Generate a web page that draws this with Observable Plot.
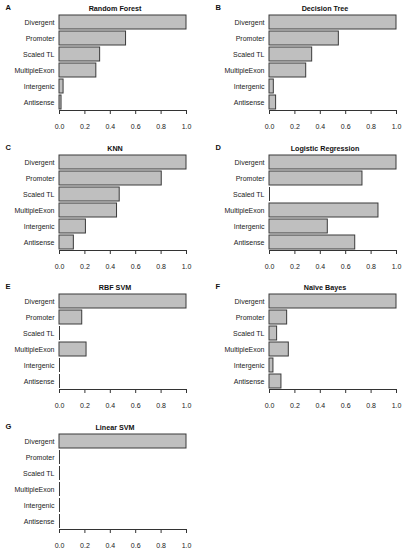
<!DOCTYPE html>
<html>
<head>
<meta charset="utf-8">
<script src="https://cdn.jsdelivr.net/npm/d3@7"></script>
<script src="https://cdn.jsdelivr.net/npm/@observablehq/plot@0.6"></script>
<style>
  html, body { margin: 0; padding: 0; background: white; overflow: hidden; }
  #chart { position: relative; width: 405px; height: 550px; }
  .panel { position: absolute; }
</style>
</head>
<body>
<div id="chart"></div>
<script>
// feature categories (top to bottom)
const categories = ["Divergent", "Promoter", "Scaled TL", "MultipleExon", "Intergenic", "Antisense"];

// panel titles and letters
const models = ["Random Forest", "Decision Tree", "KNN", "Logistic Regression", "RBF SVM", "Naïve Bayes", "Linear SVM"];
const letters = ["A", "B", "C", "D", "E", "F", "G"];

// relative importance per model, same order as categories
const randomForest = [1.0, 0.524, 0.32, 0.29, 0.032, 0.016];
const decisionTree = [1.0, 0.546, 0.336, 0.289, 0.034, 0.052];
const knn = [1.0, 0.805, 0.474, 0.453, 0.208, 0.113];
const logisticRegression = [1.0, 0.732, 0, 0.858, 0.459, 0.675];
const rbfSvm = [1.0, 0.179, 0, 0.213, 0, 0];
const naiveBayes = [1.0, 0.139, 0.06, 0.152, 0.031, 0.094];
const linearSvm = [1.0, 0, 0, 0, 0, 0];

const xTicks = [0, 0.2, 0.4, 0.6, 0.8, 1.0];

const seriesList = [randomForest, decisionTree, knn, logisticRegression, rbfSvm, naiveBayes, linearSvm];

const panelW = 195;
const panelH = 139.5;
const colX = [0, 210];

const chart = document.querySelector("#chart");

seriesList.forEach((values, i) => {
  const rows = categories.map((c, j) => ({category: c, value: values[j]}));

  const plot = Plot.plot({
    width: panelW,
    height: panelH,
    marginLeft: 59,
    marginRight: 9,
    marginTop: 14,
    marginBottom: 29.5,
    style: {fontFamily: "'Liberation Sans', Arial, Helvetica, sans-serif", fontSize: "7px", color: "#222", background: "white", overflow: "visible"},
    x: {domain: [0, 1]},
    y: {domain: categories, paddingInner: 0.14, paddingOuter: 0.07},
    marks: [
      Plot.axisY({tickSize: 0, tickPadding: 5, label: null, fill: "#222"}),
      Plot.axisX({ticks: xTicks, tickFormat: d3.format(".1f"), tickSize: 4, tickPadding: 10, label: null, stroke: "#333", fill: "#222"}),
      Plot.frame({anchor: "bottom", stroke: "#333"}),
      Plot.barX(rows, {x: "value", y: "category", fill: "#bfbfbf", stroke: "#3a3a3a", strokeWidth: 1}),
      // zero-width bars still show as a thin line, like R's barplot
      Plot.tickX(rows.filter(d => d.value === 0), {x: "value", y: "category", stroke: "#3a3a3a"}),
      Plot.text([models[i]], {frameAnchor: "top", lineAnchor: "middle", dx: -8, dy: -6, fontWeight: "bold", fontSize: 7.2, fill: "#111"}),
      Plot.text([letters[i]], {frameAnchor: "top-left", lineAnchor: "middle", dx: -54, dy: -7, fontWeight: "bold", fontSize: 7.5, fill: "#111"})
    ]
  });

  const div = document.createElement("div");
  div.className = "panel";
  div.style.left = colX[i % 2] + "px";
  div.style.top = Math.floor(i / 2) * panelH + "px";
  div.append(plot);
  chart.append(div);
});
</script>
</body>
</html>
